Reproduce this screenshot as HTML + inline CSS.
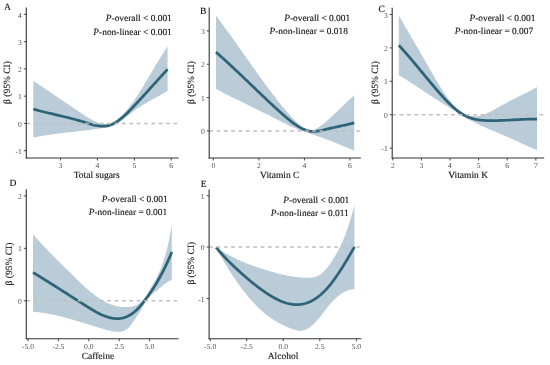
<!DOCTYPE html>
<html><head><meta charset="utf-8"><style>
html,body{margin:0;padding:0;background:#fff;}
svg{display:block;will-change:transform;}
text{font-family:'Liberation Serif', serif;text-rendering:geometricPrecision;}
</style></head><body>
<svg width="550" height="365" viewBox="0 0 550 365">
<rect width="550" height="365" fill="#fff"/>
<path d="M33.30,80.85 L34.30,81.50 L35.30,82.16 L36.30,82.82 L37.30,83.48 L38.30,84.14 L39.30,84.80 L40.30,85.47 L41.30,86.13 L42.30,86.80 L43.30,87.47 L44.30,88.14 L45.30,88.81 L46.30,89.49 L47.30,90.16 L48.30,90.83 L49.30,91.51 L50.30,92.18 L51.30,92.86 L52.30,93.54 L53.30,94.22 L54.30,94.90 L55.30,95.57 L56.30,96.25 L57.30,96.93 L58.30,97.61 L59.30,98.30 L60.30,98.98 L61.30,99.66 L62.30,100.34 L63.30,101.02 L64.30,101.70 L65.30,102.38 L66.30,103.06 L67.30,103.74 L68.30,104.42 L69.30,105.10 L70.30,105.78 L71.30,106.46 L72.30,107.14 L73.30,107.82 L74.30,108.49 L75.30,109.17 L76.30,109.85 L77.30,110.52 L78.30,111.19 L79.30,111.87 L80.30,112.54 L81.30,113.21 L82.30,113.88 L83.30,114.55 L84.30,115.21 L85.30,115.86 L86.30,116.51 L87.30,117.15 L88.30,117.77 L89.30,118.37 L90.30,118.96 L91.30,119.52 L92.30,120.07 L93.30,120.58 L94.30,121.07 L95.30,121.53 L96.30,121.96 L97.30,122.35 L98.30,122.70 L99.30,123.01 L100.30,123.28 L101.30,123.51 L102.30,123.69 L103.30,123.82 L104.30,123.90 L105.30,123.92 L106.30,123.89 L107.30,123.80 L108.30,123.65 L109.30,123.44 L110.30,123.16 L111.30,122.81 L112.30,122.40 L113.30,121.93 L114.30,121.39 L115.30,120.79 L116.30,120.14 L117.30,119.42 L118.30,118.66 L119.30,117.83 L120.30,116.96 L121.30,116.03 L122.30,115.06 L123.30,114.04 L124.30,112.97 L125.30,111.86 L126.30,110.71 L127.30,109.51 L128.30,108.28 L129.30,107.01 L130.30,105.70 L131.30,104.36 L132.30,102.98 L133.30,101.57 L134.30,100.14 L135.30,98.67 L136.30,97.18 L137.30,95.67 L138.30,94.13 L139.30,92.57 L140.30,90.99 L141.30,89.39 L142.30,87.78 L143.30,86.15 L144.30,84.50 L145.30,82.85 L146.30,81.18 L147.30,79.51 L148.30,77.83 L149.30,76.14 L150.30,74.45 L151.30,72.76 L152.30,71.07 L153.30,69.38 L154.30,67.69 L155.30,66.01 L156.30,64.33 L157.30,62.66 L158.30,61.00 L159.30,59.35 L160.30,57.71 L161.30,56.08 L162.30,54.48 L163.30,52.89 L164.30,51.31 L165.30,49.76 L166.30,48.23 L167.30,46.73 L167.60,46.28 L167.60,90.83 L167.30,91.02 L166.30,91.63 L165.30,92.24 L164.30,92.83 L163.30,93.42 L162.30,94.00 L161.30,94.57 L160.30,95.14 L159.30,95.70 L158.30,96.26 L157.30,96.81 L156.30,97.37 L155.30,97.92 L154.30,98.47 L153.30,99.02 L152.30,99.57 L151.30,100.12 L150.30,100.68 L149.30,101.24 L148.30,101.80 L147.30,102.37 L146.30,102.95 L145.30,103.53 L144.30,104.12 L143.30,104.72 L142.30,105.33 L141.30,105.95 L140.30,106.58 L139.30,107.22 L138.30,107.88 L137.30,108.55 L136.30,109.23 L135.30,109.94 L134.30,110.65 L133.30,111.39 L132.30,112.14 L131.30,112.91 L130.30,113.70 L129.30,114.49 L128.30,115.29 L127.30,116.09 L126.30,116.89 L125.30,117.69 L124.30,118.48 L123.30,119.25 L122.30,120.01 L121.30,120.75 L120.30,121.46 L119.30,122.14 L118.30,122.78 L117.30,123.39 L116.30,123.95 L115.30,124.46 L114.30,124.94 L113.30,125.37 L112.30,125.76 L111.30,126.12 L110.30,126.44 L109.30,126.73 L108.30,127.00 L107.30,127.24 L106.30,127.46 L105.30,127.65 L104.30,127.84 L103.30,128.00 L102.30,128.16 L101.30,128.31 L100.30,128.45 L99.30,128.59 L98.30,128.73 L97.30,128.87 L96.30,129.00 L95.30,129.14 L94.30,129.27 L93.30,129.40 L92.30,129.52 L91.30,129.65 L90.30,129.78 L89.30,129.90 L88.30,130.02 L87.30,130.14 L86.30,130.26 L85.30,130.38 L84.30,130.50 L83.30,130.62 L82.30,130.74 L81.30,130.86 L80.30,130.97 L79.30,131.09 L78.30,131.21 L77.30,131.32 L76.30,131.44 L75.30,131.55 L74.30,131.67 L73.30,131.78 L72.30,131.90 L71.30,132.01 L70.30,132.13 L69.30,132.25 L68.30,132.37 L67.30,132.48 L66.30,132.60 L65.30,132.72 L64.30,132.84 L63.30,132.96 L62.30,133.08 L61.30,133.21 L60.30,133.33 L59.30,133.46 L58.30,133.58 L57.30,133.71 L56.30,133.84 L55.30,133.97 L54.30,134.11 L53.30,134.24 L52.30,134.38 L51.30,134.52 L50.30,134.66 L49.30,134.80 L48.30,134.95 L47.30,135.10 L46.30,135.25 L45.30,135.40 L44.30,135.55 L43.30,135.71 L42.30,135.87 L41.30,136.03 L40.30,136.20 L39.30,136.37 L38.30,136.54 L37.30,136.71 L36.30,136.89 L35.30,137.07 L34.30,137.26 L33.30,137.44 Z" fill="#b9ccd8"/>
<path d="M33.30,109.04 L34.30,109.33 L35.30,109.61 L36.30,109.90 L37.30,110.17 L38.30,110.45 L39.30,110.72 L40.30,110.98 L41.30,111.24 L42.30,111.50 L43.30,111.75 L44.30,112.00 L45.30,112.25 L46.30,112.50 L47.30,112.74 L48.30,112.98 L49.30,113.22 L50.30,113.46 L51.30,113.69 L52.30,113.93 L53.30,114.16 L54.30,114.39 L55.30,114.63 L56.30,114.86 L57.30,115.09 L58.30,115.32 L59.30,115.56 L60.30,115.79 L61.30,116.02 L62.30,116.26 L63.30,116.49 L64.30,116.73 L65.30,116.97 L66.30,117.21 L67.30,117.46 L68.30,117.70 L69.30,117.95 L70.30,118.21 L71.30,118.46 L72.30,118.72 L73.30,118.98 L74.30,119.25 L75.30,119.52 L76.30,119.80 L77.30,120.08 L78.30,120.36 L79.30,120.65 L80.30,120.94 L81.30,121.25 L82.30,121.55 L83.30,121.86 L84.30,122.18 L85.30,122.49 L86.30,122.81 L87.30,123.12 L88.30,123.43 L89.30,123.73 L90.30,124.02 L91.30,124.31 L92.30,124.58 L93.30,124.83 L94.30,125.07 L95.30,125.29 L96.30,125.49 L97.30,125.67 L98.30,125.82 L99.30,125.95 L100.30,126.05 L101.30,126.12 L102.30,126.16 L103.30,126.16 L104.30,126.13 L105.30,126.05 L106.30,125.94 L107.30,125.78 L108.30,125.57 L109.30,125.32 L110.30,125.01 L111.30,124.65 L112.30,124.23 L113.30,123.77 L114.30,123.25 L115.30,122.68 L116.30,122.06 L117.30,121.41 L118.30,120.71 L119.30,119.97 L120.30,119.19 L121.30,118.38 L122.30,117.54 L123.30,116.66 L124.30,115.76 L125.30,114.84 L126.30,113.89 L127.30,112.91 L128.30,111.92 L129.30,110.92 L130.30,109.90 L131.30,108.86 L132.30,107.82 L133.30,106.77 L134.30,105.72 L135.30,104.66 L136.30,103.59 L137.30,102.52 L138.30,101.44 L139.30,100.36 L140.30,99.28 L141.30,98.19 L142.30,97.10 L143.30,96.01 L144.30,94.91 L145.30,93.81 L146.30,92.71 L147.30,91.60 L148.30,90.49 L149.30,89.39 L150.30,88.28 L151.30,87.17 L152.30,86.06 L153.30,84.95 L154.30,83.84 L155.30,82.73 L156.30,81.62 L157.30,80.52 L158.30,79.41 L159.30,78.31 L160.30,77.20 L161.30,76.10 L162.30,75.01 L163.30,73.91 L164.30,72.82 L165.30,71.73 L166.30,70.65 L167.30,69.57 L167.60,69.24" fill="none" stroke="#2f6378" stroke-width="2.75" stroke-linecap="butt" stroke-linejoin="round"/>
<line x1="26.30" y1="123.40" x2="177.50" y2="123.40" stroke="#bfbfbf" stroke-width="1.45" stroke-dasharray="3.8 3.56"/>
<line x1="26.30" y1="7.60" x2="26.30" y2="158.50" stroke="#333333" stroke-width="1.1"/>
<line x1="25.80" y1="158.00" x2="178.60" y2="158.00" stroke="#333333" stroke-width="1.1"/>
<line x1="23.80" y1="14.40" x2="26.30" y2="14.40" stroke="#333333" stroke-width="0.9"/>
<text x="21.80" y="17.50" text-anchor="end" font-size="7.6" fill="#4d4d4d">4</text>
<line x1="23.80" y1="41.65" x2="26.30" y2="41.65" stroke="#333333" stroke-width="0.9"/>
<text x="21.80" y="44.75" text-anchor="end" font-size="7.6" fill="#4d4d4d">3</text>
<line x1="23.80" y1="68.90" x2="26.30" y2="68.90" stroke="#333333" stroke-width="0.9"/>
<text x="21.80" y="72.00" text-anchor="end" font-size="7.6" fill="#4d4d4d">2</text>
<line x1="23.80" y1="96.15" x2="26.30" y2="96.15" stroke="#333333" stroke-width="0.9"/>
<text x="21.80" y="99.25" text-anchor="end" font-size="7.6" fill="#4d4d4d">1</text>
<line x1="23.80" y1="123.40" x2="26.30" y2="123.40" stroke="#333333" stroke-width="0.9"/>
<text x="21.80" y="126.50" text-anchor="end" font-size="7.6" fill="#4d4d4d">0</text>
<line x1="23.80" y1="150.65" x2="26.30" y2="150.65" stroke="#333333" stroke-width="0.9"/>
<text x="21.80" y="153.75" text-anchor="end" font-size="7.6" fill="#4d4d4d">-1</text>
<line x1="60.40" y1="158.00" x2="60.40" y2="160.50" stroke="#333333" stroke-width="0.9"/>
<text x="60.40" y="168.20" text-anchor="middle" font-size="7.6" fill="#4d4d4d">3</text>
<line x1="97.40" y1="158.00" x2="97.40" y2="160.50" stroke="#333333" stroke-width="0.9"/>
<text x="97.40" y="168.20" text-anchor="middle" font-size="7.6" fill="#4d4d4d">4</text>
<line x1="134.40" y1="158.00" x2="134.40" y2="160.50" stroke="#333333" stroke-width="0.9"/>
<text x="134.40" y="168.20" text-anchor="middle" font-size="7.6" fill="#4d4d4d">5</text>
<line x1="171.20" y1="158.00" x2="171.20" y2="160.50" stroke="#333333" stroke-width="0.9"/>
<text x="171.20" y="168.20" text-anchor="middle" font-size="7.6" fill="#4d4d4d">6</text>
<text x="96.70" y="178.20" text-anchor="middle" font-size="9.5" font-weight="normal" fill="#111" stroke="#111" stroke-width="0.12">Total sugars</text>
<text transform="translate(10.20,82.50) rotate(-90)" text-anchor="middle" font-size="9.5" font-weight="normal" fill="#111" stroke="#111" stroke-width="0.12">β (95% CI)</text>
<text x="4.00" y="9.90" font-size="9.6" font-weight="normal" fill="#111" stroke="#111" stroke-width="0.12">A</text>
<text x="171.80" y="20.60" text-anchor="end" font-size="9.4" fill="#111" stroke="#111" stroke-width="0.12"><tspan font-style="italic">P</tspan>-overall &lt; 0.001</text>
<text x="171.80" y="34.50" text-anchor="end" font-size="9.4" fill="#111" stroke="#111" stroke-width="0.12"><tspan font-style="italic">P</tspan>-non-linear &lt; 0.001</text>
<path d="M216.00,15.70 L217.00,17.01 L218.00,18.33 L219.00,19.66 L220.00,21.00 L221.00,22.34 L222.00,23.69 L223.00,25.04 L224.00,26.40 L225.00,27.77 L226.00,29.14 L227.00,30.52 L228.00,31.90 L229.00,33.29 L230.00,34.68 L231.00,36.07 L232.00,37.47 L233.00,38.87 L234.00,40.27 L235.00,41.68 L236.00,43.09 L237.00,44.50 L238.00,45.91 L239.00,47.33 L240.00,48.75 L241.00,50.16 L242.00,51.58 L243.00,53.00 L244.00,54.42 L245.00,55.84 L246.00,57.26 L247.00,58.68 L248.00,60.10 L249.00,61.52 L250.00,62.94 L251.00,64.35 L252.00,65.76 L253.00,67.17 L254.00,68.58 L255.00,69.99 L256.00,71.39 L257.00,72.79 L258.00,74.19 L259.00,75.58 L260.00,76.97 L261.00,78.35 L262.00,79.73 L263.00,81.11 L264.00,82.48 L265.00,83.84 L266.00,85.20 L267.00,86.55 L268.00,87.90 L269.00,89.24 L270.00,90.57 L271.00,91.90 L272.00,93.21 L273.00,94.52 L274.00,95.83 L275.00,97.12 L276.00,98.41 L277.00,99.69 L278.00,100.96 L279.00,102.21 L280.00,103.46 L281.00,104.70 L282.00,105.93 L283.00,107.15 L284.00,108.35 L285.00,109.55 L286.00,110.72 L287.00,111.88 L288.00,113.03 L289.00,114.15 L290.00,115.26 L291.00,116.35 L292.00,117.41 L293.00,118.46 L294.00,119.48 L295.00,120.48 L296.00,121.46 L297.00,122.41 L298.00,123.33 L299.00,124.23 L300.00,125.09 L301.00,125.93 L302.00,126.72 L303.00,127.47 L304.00,128.15 L305.00,128.75 L306.00,129.26 L307.00,129.68 L308.00,129.99 L309.00,130.18 L310.00,130.27 L311.00,130.25 L312.00,130.14 L313.00,129.94 L314.00,129.65 L315.00,129.29 L316.00,128.85 L317.00,128.35 L318.00,127.78 L319.00,127.16 L320.00,126.49 L321.00,125.78 L322.00,125.02 L323.00,124.23 L324.00,123.41 L325.00,122.57 L326.00,121.70 L327.00,120.80 L328.00,119.90 L329.00,118.98 L330.00,118.06 L331.00,117.13 L332.00,116.19 L333.00,115.25 L334.00,114.31 L335.00,113.36 L336.00,112.41 L337.00,111.46 L338.00,110.51 L339.00,109.56 L340.00,108.60 L341.00,107.65 L342.00,106.70 L343.00,105.75 L344.00,104.80 L345.00,103.85 L346.00,102.91 L347.00,101.98 L348.00,101.04 L349.00,100.12 L350.00,99.19 L351.00,98.28 L352.00,97.37 L353.00,96.47 L354.00,95.58 L354.20,95.40 L354.20,150.70 L354.00,150.62 L353.00,150.20 L352.00,149.79 L351.00,149.37 L350.00,148.95 L349.00,148.53 L348.00,148.11 L347.00,147.68 L346.00,147.26 L345.00,146.83 L344.00,146.41 L343.00,145.98 L342.00,145.56 L341.00,145.13 L340.00,144.71 L339.00,144.29 L338.00,143.87 L337.00,143.46 L336.00,143.04 L335.00,142.63 L334.00,142.23 L333.00,141.82 L332.00,141.43 L331.00,141.03 L330.00,140.65 L329.00,140.26 L328.00,139.89 L327.00,139.51 L326.00,139.15 L325.00,138.79 L324.00,138.43 L323.00,138.07 L322.00,137.72 L321.00,137.37 L320.00,137.03 L319.00,136.69 L318.00,136.35 L317.00,136.01 L316.00,135.67 L315.00,135.33 L314.00,134.99 L313.00,134.66 L312.00,134.32 L311.00,133.98 L310.00,133.65 L309.00,133.31 L308.00,132.97 L307.00,132.62 L306.00,132.28 L305.00,131.93 L304.00,131.58 L303.00,131.22 L302.00,130.87 L301.00,130.50 L300.00,130.14 L299.00,129.76 L298.00,129.38 L297.00,128.99 L296.00,128.60 L295.00,128.19 L294.00,127.78 L293.00,127.35 L292.00,126.92 L291.00,126.47 L290.00,126.01 L289.00,125.53 L288.00,125.05 L287.00,124.56 L286.00,124.06 L285.00,123.55 L284.00,123.04 L283.00,122.52 L282.00,122.00 L281.00,121.49 L280.00,120.97 L279.00,120.45 L278.00,119.94 L277.00,119.42 L276.00,118.91 L275.00,118.40 L274.00,117.89 L273.00,117.39 L272.00,116.88 L271.00,116.38 L270.00,115.87 L269.00,115.37 L268.00,114.87 L267.00,114.37 L266.00,113.88 L265.00,113.38 L264.00,112.88 L263.00,112.39 L262.00,111.89 L261.00,111.40 L260.00,110.91 L259.00,110.42 L258.00,109.92 L257.00,109.43 L256.00,108.94 L255.00,108.45 L254.00,107.96 L253.00,107.47 L252.00,106.98 L251.00,106.49 L250.00,106.00 L249.00,105.52 L248.00,105.03 L247.00,104.54 L246.00,104.05 L245.00,103.56 L244.00,103.07 L243.00,102.58 L242.00,102.09 L241.00,101.60 L240.00,101.11 L239.00,100.62 L238.00,100.12 L237.00,99.63 L236.00,99.14 L235.00,98.64 L234.00,98.15 L233.00,97.65 L232.00,97.15 L231.00,96.66 L230.00,96.16 L229.00,95.66 L228.00,95.15 L227.00,94.65 L226.00,94.15 L225.00,93.64 L224.00,93.13 L223.00,92.63 L222.00,92.12 L221.00,91.60 L220.00,91.09 L219.00,90.58 L218.00,90.06 L217.00,89.54 L216.00,89.02 Z" fill="#b9ccd8"/>
<path d="M216.00,52.13 L217.00,53.00 L218.00,53.88 L219.00,54.77 L220.00,55.66 L221.00,56.55 L222.00,57.45 L223.00,58.35 L224.00,59.25 L225.00,60.16 L226.00,61.08 L227.00,61.99 L228.00,62.91 L229.00,63.84 L230.00,64.76 L231.00,65.69 L232.00,66.62 L233.00,67.56 L234.00,68.49 L235.00,69.43 L236.00,70.38 L237.00,71.32 L238.00,72.27 L239.00,73.21 L240.00,74.16 L241.00,75.11 L242.00,76.07 L243.00,77.02 L244.00,77.97 L245.00,78.93 L246.00,79.89 L247.00,80.84 L248.00,81.80 L249.00,82.76 L250.00,83.72 L251.00,84.68 L252.00,85.64 L253.00,86.60 L254.00,87.56 L255.00,88.51 L256.00,89.47 L257.00,90.43 L258.00,91.39 L259.00,92.34 L260.00,93.30 L261.00,94.25 L262.00,95.20 L263.00,96.15 L264.00,97.10 L265.00,98.05 L266.00,98.99 L267.00,99.93 L268.00,100.88 L269.00,101.81 L270.00,102.75 L271.00,103.68 L272.00,104.61 L273.00,105.54 L274.00,106.47 L275.00,107.39 L276.00,108.31 L277.00,109.22 L278.00,110.13 L279.00,111.04 L280.00,111.95 L281.00,112.85 L282.00,113.74 L283.00,114.63 L284.00,115.51 L285.00,116.38 L286.00,117.24 L287.00,118.09 L288.00,118.92 L289.00,119.74 L290.00,120.54 L291.00,121.33 L292.00,122.10 L293.00,122.85 L294.00,123.57 L295.00,124.28 L296.00,124.96 L297.00,125.61 L298.00,126.24 L299.00,126.84 L300.00,127.41 L301.00,127.95 L302.00,128.46 L303.00,128.94 L304.00,129.37 L305.00,129.78 L306.00,130.14 L307.00,130.46 L308.00,130.74 L309.00,130.98 L310.00,131.17 L311.00,131.31 L312.00,131.40 L313.00,131.45 L314.00,131.45 L315.00,131.42 L316.00,131.35 L317.00,131.24 L318.00,131.11 L319.00,130.96 L320.00,130.78 L321.00,130.59 L322.00,130.38 L323.00,130.15 L324.00,129.92 L325.00,129.67 L326.00,129.42 L327.00,129.17 L328.00,128.92 L329.00,128.67 L330.00,128.42 L331.00,128.18 L332.00,127.95 L333.00,127.72 L334.00,127.49 L335.00,127.27 L336.00,127.04 L337.00,126.82 L338.00,126.60 L339.00,126.39 L340.00,126.17 L341.00,125.95 L342.00,125.73 L343.00,125.51 L344.00,125.29 L345.00,125.07 L346.00,124.84 L347.00,124.61 L348.00,124.38 L349.00,124.14 L350.00,123.90 L351.00,123.65 L352.00,123.39 L353.00,123.13 L354.00,122.86 L354.20,122.81" fill="none" stroke="#2f6378" stroke-width="2.75" stroke-linecap="butt" stroke-linejoin="round"/>
<line x1="209.20" y1="130.90" x2="360.00" y2="130.90" stroke="#bfbfbf" stroke-width="1.45" stroke-dasharray="3.8 3.56"/>
<line x1="209.20" y1="7.60" x2="209.20" y2="158.50" stroke="#333333" stroke-width="1.1"/>
<line x1="208.70" y1="158.00" x2="360.90" y2="158.00" stroke="#333333" stroke-width="1.1"/>
<line x1="206.70" y1="30.90" x2="209.20" y2="30.90" stroke="#333333" stroke-width="0.9"/>
<text x="204.70" y="34.00" text-anchor="end" font-size="7.6" fill="#4d4d4d">3</text>
<line x1="206.70" y1="64.24" x2="209.20" y2="64.24" stroke="#333333" stroke-width="0.9"/>
<text x="204.70" y="67.34" text-anchor="end" font-size="7.6" fill="#4d4d4d">2</text>
<line x1="206.70" y1="97.57" x2="209.20" y2="97.57" stroke="#333333" stroke-width="0.9"/>
<text x="204.70" y="100.67" text-anchor="end" font-size="7.6" fill="#4d4d4d">1</text>
<line x1="206.70" y1="130.90" x2="209.20" y2="130.90" stroke="#333333" stroke-width="0.9"/>
<text x="204.70" y="134.00" text-anchor="end" font-size="7.6" fill="#4d4d4d">0</text>
<line x1="213.30" y1="158.00" x2="213.30" y2="160.50" stroke="#333333" stroke-width="0.9"/>
<text x="213.30" y="168.20" text-anchor="middle" font-size="7.6" fill="#4d4d4d">0</text>
<line x1="258.86" y1="158.00" x2="258.86" y2="160.50" stroke="#333333" stroke-width="0.9"/>
<text x="258.86" y="168.20" text-anchor="middle" font-size="7.6" fill="#4d4d4d">2</text>
<line x1="304.42" y1="158.00" x2="304.42" y2="160.50" stroke="#333333" stroke-width="0.9"/>
<text x="304.42" y="168.20" text-anchor="middle" font-size="7.6" fill="#4d4d4d">4</text>
<line x1="349.98" y1="158.00" x2="349.98" y2="160.50" stroke="#333333" stroke-width="0.9"/>
<text x="349.98" y="168.20" text-anchor="middle" font-size="7.6" fill="#4d4d4d">6</text>
<text x="279.75" y="178.20" text-anchor="middle" font-size="9.5" font-weight="normal" fill="#111" stroke="#111" stroke-width="0.12">Vitamin C</text>
<text transform="translate(194.00,82.50) rotate(-90)" text-anchor="middle" font-size="9.5" font-weight="normal" fill="#111" stroke="#111" stroke-width="0.12">β (95% CI)</text>
<text x="200.00" y="13.60" font-size="9.6" font-weight="normal" fill="#111" stroke="#111" stroke-width="0.12">B</text>
<text x="350.20" y="20.50" text-anchor="end" font-size="9.4" fill="#111" stroke="#111" stroke-width="0.12"><tspan font-style="italic">P</tspan>-overall &lt; 0.001</text>
<text x="347.90" y="34.00" text-anchor="end" font-size="9.4" fill="#111" stroke="#111" stroke-width="0.12"><tspan font-style="italic">P</tspan>-non-linear = 0.018</text>
<path d="M398.80,15.50 L399.80,17.25 L400.80,19.00 L401.80,20.74 L402.80,22.47 L403.80,24.20 L404.80,25.92 L405.80,27.63 L406.80,29.35 L407.80,31.06 L408.80,32.76 L409.80,34.47 L410.80,36.18 L411.80,37.88 L412.80,39.58 L413.80,41.29 L414.80,43.00 L415.80,44.70 L416.80,46.41 L417.80,48.13 L418.80,49.85 L419.80,51.57 L420.80,53.29 L421.80,55.03 L422.80,56.76 L423.80,58.50 L424.80,60.24 L425.80,61.99 L426.80,63.74 L427.80,65.49 L428.80,67.24 L429.80,69.00 L430.80,70.75 L431.80,72.51 L432.80,74.26 L433.80,76.00 L434.80,77.73 L435.80,79.45 L436.80,81.15 L437.80,82.84 L438.80,84.50 L439.80,86.14 L440.80,87.75 L441.80,89.33 L442.80,90.88 L443.80,92.39 L444.80,93.87 L445.80,95.30 L446.80,96.69 L447.80,98.03 L448.80,99.33 L449.80,100.59 L450.80,101.79 L451.80,102.96 L452.80,104.07 L453.80,105.14 L454.80,106.17 L455.80,107.14 L456.80,108.07 L457.80,108.95 L458.80,109.79 L459.80,110.57 L460.80,111.30 L461.80,111.99 L462.80,112.62 L463.80,113.21 L464.80,113.74 L465.80,114.22 L466.80,114.65 L467.80,115.03 L468.80,115.36 L469.80,115.64 L470.80,115.86 L471.80,116.04 L472.80,116.17 L473.80,116.25 L474.80,116.29 L475.80,116.28 L476.80,116.22 L477.80,116.12 L478.80,115.98 L479.80,115.80 L480.80,115.57 L481.80,115.31 L482.80,115.00 L483.80,114.66 L484.80,114.29 L485.80,113.88 L486.80,113.45 L487.80,112.99 L488.80,112.51 L489.80,112.01 L490.80,111.49 L491.80,110.95 L492.80,110.40 L493.80,109.84 L494.80,109.28 L495.80,108.70 L496.80,108.13 L497.80,107.55 L498.80,106.98 L499.80,106.41 L500.80,105.84 L501.80,105.29 L502.80,104.74 L503.80,104.20 L504.80,103.66 L505.80,103.13 L506.80,102.61 L507.80,102.09 L508.80,101.58 L509.80,101.06 L510.80,100.56 L511.80,100.05 L512.80,99.55 L513.80,99.05 L514.80,98.55 L515.80,98.06 L516.80,97.56 L517.80,97.07 L518.80,96.58 L519.80,96.08 L520.80,95.59 L521.80,95.09 L522.80,94.60 L523.80,94.10 L524.80,93.59 L525.80,93.09 L526.80,92.58 L527.80,92.07 L528.80,91.56 L529.80,91.04 L530.80,90.52 L531.80,89.99 L532.80,89.45 L533.80,88.91 L534.80,88.36 L535.80,87.81 L536.80,87.25 L537.00,87.14 L537.00,150.27 L536.80,150.19 L535.80,149.76 L534.80,149.33 L533.80,148.90 L532.80,148.46 L531.80,148.01 L530.80,147.56 L529.80,147.11 L528.80,146.66 L527.80,146.20 L526.80,145.74 L525.80,145.28 L524.80,144.82 L523.80,144.36 L522.80,143.89 L521.80,143.43 L520.80,142.96 L519.80,142.50 L518.80,142.04 L517.80,141.57 L516.80,141.11 L515.80,140.65 L514.80,140.19 L513.80,139.74 L512.80,139.28 L511.80,138.83 L510.80,138.39 L509.80,137.94 L508.80,137.50 L507.80,137.07 L506.80,136.63 L505.80,136.20 L504.80,135.78 L503.80,135.35 L502.80,134.93 L501.80,134.51 L500.80,134.09 L499.80,133.67 L498.80,133.25 L497.80,132.83 L496.80,132.41 L495.80,132.00 L494.80,131.58 L493.80,131.16 L492.80,130.74 L491.80,130.31 L490.80,129.89 L489.80,129.46 L488.80,129.03 L487.80,128.60 L486.80,128.16 L485.80,127.72 L484.80,127.28 L483.80,126.83 L482.80,126.38 L481.80,125.92 L480.80,125.46 L479.80,124.99 L478.80,124.51 L477.80,124.03 L476.80,123.55 L475.80,123.05 L474.80,122.55 L473.80,122.04 L472.80,121.53 L471.80,121.00 L470.80,120.47 L469.80,119.93 L468.80,119.38 L467.80,118.82 L466.80,118.26 L465.80,117.68 L464.80,117.10 L463.80,116.50 L462.80,115.90 L461.80,115.29 L460.80,114.67 L459.80,114.05 L458.80,113.41 L457.80,112.78 L456.80,112.14 L455.80,111.50 L454.80,110.85 L453.80,110.21 L452.80,109.57 L451.80,108.94 L450.80,108.31 L449.80,107.69 L448.80,107.07 L447.80,106.46 L446.80,105.85 L445.80,105.25 L444.80,104.64 L443.80,104.03 L442.80,103.43 L441.80,102.82 L440.80,102.20 L439.80,101.58 L438.80,100.96 L437.80,100.33 L436.80,99.70 L435.80,99.06 L434.80,98.42 L433.80,97.77 L432.80,97.12 L431.80,96.47 L430.80,95.82 L429.80,95.16 L428.80,94.50 L427.80,93.84 L426.80,93.17 L425.80,92.51 L424.80,91.84 L423.80,91.17 L422.80,90.51 L421.80,89.84 L420.80,89.17 L419.80,88.51 L418.80,87.84 L417.80,87.18 L416.80,86.51 L415.80,85.85 L414.80,85.19 L413.80,84.54 L412.80,83.88 L411.80,83.23 L410.80,82.58 L409.80,81.94 L408.80,81.30 L407.80,80.67 L406.80,80.03 L405.80,79.41 L404.80,78.79 L403.80,78.17 L402.80,77.56 L401.80,76.96 L400.80,76.37 L399.80,75.78 L398.80,75.19 Z" fill="#b9ccd8"/>
<path d="M398.80,45.25 L399.80,46.32 L400.80,47.41 L401.80,48.51 L402.80,49.62 L403.80,50.74 L404.80,51.86 L405.80,53.00 L406.80,54.14 L407.80,55.30 L408.80,56.46 L409.80,57.63 L410.80,58.80 L411.80,59.98 L412.80,61.17 L413.80,62.36 L414.80,63.55 L415.80,64.75 L416.80,65.95 L417.80,67.16 L418.80,68.37 L419.80,69.57 L420.80,70.79 L421.80,72.00 L422.80,73.21 L423.80,74.42 L424.80,75.63 L425.80,76.84 L426.80,78.05 L427.80,79.25 L428.80,80.46 L429.80,81.66 L430.80,82.85 L431.80,84.04 L432.80,85.23 L433.80,86.41 L434.80,87.59 L435.80,88.76 L436.80,89.92 L437.80,91.08 L438.80,92.22 L439.80,93.36 L440.80,94.49 L441.80,95.61 L442.80,96.72 L443.80,97.82 L444.80,98.90 L445.80,99.97 L446.80,101.02 L447.80,102.05 L448.80,103.06 L449.80,104.06 L450.80,105.03 L451.80,105.97 L452.80,106.90 L453.80,107.79 L454.80,108.66 L455.80,109.50 L456.80,110.31 L457.80,111.09 L458.80,111.84 L459.80,112.55 L460.80,113.23 L461.80,113.87 L462.80,114.48 L463.80,115.04 L464.80,115.57 L465.80,116.07 L466.80,116.53 L467.80,116.96 L468.80,117.36 L469.80,117.73 L470.80,118.07 L471.80,118.39 L472.80,118.67 L473.80,118.94 L474.80,119.17 L475.80,119.39 L476.80,119.58 L477.80,119.75 L478.80,119.90 L479.80,120.04 L480.80,120.15 L481.80,120.25 L482.80,120.34 L483.80,120.41 L484.80,120.47 L485.80,120.52 L486.80,120.56 L487.80,120.58 L488.80,120.60 L489.80,120.62 L490.80,120.63 L491.80,120.63 L492.80,120.63 L493.80,120.62 L494.80,120.61 L495.80,120.59 L496.80,120.57 L497.80,120.55 L498.80,120.52 L499.80,120.49 L500.80,120.46 L501.80,120.42 L502.80,120.38 L503.80,120.34 L504.80,120.30 L505.80,120.25 L506.80,120.20 L507.80,120.15 L508.80,120.10 L509.80,120.05 L510.80,120.00 L511.80,119.94 L512.80,119.89 L513.80,119.84 L514.80,119.78 L515.80,119.73 L516.80,119.67 L517.80,119.62 L518.80,119.57 L519.80,119.52 L520.80,119.47 L521.80,119.42 L522.80,119.38 L523.80,119.33 L524.80,119.29 L525.80,119.25 L526.80,119.22 L527.80,119.18 L528.80,119.15 L529.80,119.13 L530.80,119.10 L531.80,119.09 L532.80,119.07 L533.80,119.06 L534.80,119.05 L535.80,119.05 L536.80,119.06 L537.00,119.06" fill="none" stroke="#2f6378" stroke-width="2.75" stroke-linecap="butt" stroke-linejoin="round"/>
<line x1="392.20" y1="114.70" x2="543.50" y2="114.70" stroke="#bfbfbf" stroke-width="1.45" stroke-dasharray="3.8 3.56"/>
<line x1="392.20" y1="7.70" x2="392.20" y2="158.50" stroke="#333333" stroke-width="1.1"/>
<line x1="391.70" y1="158.00" x2="544.20" y2="158.00" stroke="#333333" stroke-width="1.1"/>
<line x1="389.70" y1="14.50" x2="392.20" y2="14.50" stroke="#333333" stroke-width="0.9"/>
<text x="387.70" y="17.60" text-anchor="end" font-size="7.6" fill="#4d4d4d">3</text>
<line x1="389.70" y1="47.90" x2="392.20" y2="47.90" stroke="#333333" stroke-width="0.9"/>
<text x="387.70" y="51.00" text-anchor="end" font-size="7.6" fill="#4d4d4d">2</text>
<line x1="389.70" y1="81.30" x2="392.20" y2="81.30" stroke="#333333" stroke-width="0.9"/>
<text x="387.70" y="84.40" text-anchor="end" font-size="7.6" fill="#4d4d4d">1</text>
<line x1="389.70" y1="114.70" x2="392.20" y2="114.70" stroke="#333333" stroke-width="0.9"/>
<text x="387.70" y="117.80" text-anchor="end" font-size="7.6" fill="#4d4d4d">0</text>
<line x1="389.70" y1="148.10" x2="392.20" y2="148.10" stroke="#333333" stroke-width="0.9"/>
<text x="387.70" y="151.20" text-anchor="end" font-size="7.6" fill="#4d4d4d">-1</text>
<line x1="392.80" y1="158.00" x2="392.80" y2="160.50" stroke="#333333" stroke-width="0.9"/>
<text x="392.80" y="168.20" text-anchor="middle" font-size="7.6" fill="#4d4d4d">2</text>
<line x1="421.40" y1="158.00" x2="421.40" y2="160.50" stroke="#333333" stroke-width="0.9"/>
<text x="421.40" y="168.20" text-anchor="middle" font-size="7.6" fill="#4d4d4d">3</text>
<line x1="450.00" y1="158.00" x2="450.00" y2="160.50" stroke="#333333" stroke-width="0.9"/>
<text x="450.00" y="168.20" text-anchor="middle" font-size="7.6" fill="#4d4d4d">4</text>
<line x1="478.60" y1="158.00" x2="478.60" y2="160.50" stroke="#333333" stroke-width="0.9"/>
<text x="478.60" y="168.20" text-anchor="middle" font-size="7.6" fill="#4d4d4d">5</text>
<line x1="507.20" y1="158.00" x2="507.20" y2="160.50" stroke="#333333" stroke-width="0.9"/>
<text x="507.20" y="168.20" text-anchor="middle" font-size="7.6" fill="#4d4d4d">6</text>
<line x1="535.80" y1="158.00" x2="535.80" y2="160.50" stroke="#333333" stroke-width="0.9"/>
<text x="535.80" y="168.20" text-anchor="middle" font-size="7.6" fill="#4d4d4d">7</text>
<text x="468.20" y="178.20" text-anchor="middle" font-size="9.5" font-weight="normal" fill="#111" stroke="#111" stroke-width="0.12">Vitamin K</text>
<text transform="translate(377.50,82.50) rotate(-90)" text-anchor="middle" font-size="9.5" font-weight="normal" fill="#111" stroke="#111" stroke-width="0.12">β (95% CI)</text>
<text x="378.60" y="12.00" font-size="9.6" font-weight="normal" fill="#111" stroke="#111" stroke-width="0.12">C</text>
<text x="535.40" y="20.80" text-anchor="end" font-size="9.4" fill="#111" stroke="#111" stroke-width="0.12"><tspan font-style="italic">P</tspan>-overall &lt; 0.001</text>
<text x="533.20" y="34.10" text-anchor="end" font-size="9.4" fill="#111" stroke="#111" stroke-width="0.12"><tspan font-style="italic">P</tspan>-non-linear = 0.007</text>
<path d="M33.00,234.20 L34.00,235.36 L35.00,236.51 L36.00,237.65 L37.00,238.78 L38.00,239.90 L39.00,241.01 L40.00,242.11 L41.00,243.20 L42.00,244.28 L43.00,245.35 L44.00,246.42 L45.00,247.48 L46.00,248.53 L47.00,249.58 L48.00,250.61 L49.00,251.65 L50.00,252.67 L51.00,253.69 L52.00,254.71 L53.00,255.72 L54.00,256.73 L55.00,257.73 L56.00,258.73 L57.00,259.73 L58.00,260.73 L59.00,261.72 L60.00,262.71 L61.00,263.70 L62.00,264.68 L63.00,265.67 L64.00,266.66 L65.00,267.64 L66.00,268.63 L67.00,269.61 L68.00,270.60 L69.00,271.59 L70.00,272.58 L71.00,273.57 L72.00,274.56 L73.00,275.55 L74.00,276.53 L75.00,277.52 L76.00,278.50 L77.00,279.47 L78.00,280.44 L79.00,281.41 L80.00,282.36 L81.00,283.31 L82.00,284.25 L83.00,285.19 L84.00,286.11 L85.00,287.02 L86.00,287.92 L87.00,288.81 L88.00,289.68 L89.00,290.54 L90.00,291.38 L91.00,292.21 L92.00,293.02 L93.00,293.82 L94.00,294.59 L95.00,295.35 L96.00,296.09 L97.00,296.80 L98.00,297.50 L99.00,298.17 L100.00,298.83 L101.00,299.45 L102.00,300.06 L103.00,300.65 L104.00,301.21 L105.00,301.74 L106.00,302.25 L107.00,302.74 L108.00,303.20 L109.00,303.64 L110.00,304.05 L111.00,304.43 L112.00,304.79 L113.00,305.12 L114.00,305.42 L115.00,305.70 L116.00,305.95 L117.00,306.17 L118.00,306.37 L119.00,306.54 L120.00,306.68 L121.00,306.80 L122.00,306.90 L123.00,306.97 L124.00,307.02 L125.00,307.04 L126.00,307.04 L127.00,307.01 L128.00,306.96 L129.00,306.89 L130.00,306.78 L131.00,306.64 L132.00,306.46 L133.00,306.22 L134.00,305.94 L135.00,305.59 L136.00,305.18 L137.00,304.70 L138.00,304.14 L139.00,303.51 L140.00,302.78 L141.00,301.96 L142.00,301.03 L143.00,299.98 L144.00,298.81 L145.00,297.49 L146.00,296.03 L147.00,294.45 L148.00,292.78 L149.00,291.05 L150.00,289.29 L151.00,287.52 L152.00,285.77 L153.00,284.03 L154.00,282.27 L155.00,280.48 L156.00,278.64 L157.00,276.73 L158.00,274.73 L159.00,272.62 L160.00,270.39 L161.00,268.01 L162.00,265.46 L163.00,262.72 L164.00,259.76 L165.00,256.54 L166.00,253.01 L167.00,249.14 L168.00,244.89 L169.00,240.23 L170.00,235.10 L171.00,229.48 L171.80,224.60 L171.80,280.00 L171.00,280.30 L170.00,280.74 L169.00,281.25 L168.00,281.82 L167.00,282.44 L166.00,283.11 L165.00,283.83 L164.00,284.58 L163.00,285.36 L162.00,286.15 L161.00,286.97 L160.00,287.79 L159.00,288.62 L158.00,289.44 L157.00,290.25 L156.00,291.04 L155.00,291.82 L154.00,292.61 L153.00,293.41 L152.00,294.25 L151.00,295.14 L150.00,296.11 L149.00,297.16 L148.00,298.32 L147.00,299.61 L146.00,301.03 L145.00,302.61 L144.00,304.33 L143.00,306.14 L142.00,307.99 L141.00,309.83 L140.00,311.61 L139.00,313.27 L138.00,314.83 L137.00,316.30 L136.00,317.74 L135.00,319.16 L134.00,320.61 L133.00,322.04 L132.00,323.45 L131.00,324.80 L130.00,326.07 L129.00,327.24 L128.00,328.27 L127.00,329.15 L126.00,329.86 L125.00,330.43 L124.00,330.87 L123.00,331.21 L122.00,331.44 L121.00,331.61 L120.00,331.71 L119.00,331.76 L118.00,331.78 L117.00,331.75 L116.00,331.69 L115.00,331.59 L114.00,331.47 L113.00,331.31 L112.00,331.13 L111.00,330.93 L110.00,330.71 L109.00,330.47 L108.00,330.21 L107.00,329.95 L106.00,329.68 L105.00,329.40 L104.00,329.12 L103.00,328.83 L102.00,328.55 L101.00,328.26 L100.00,327.97 L99.00,327.67 L98.00,327.38 L97.00,327.08 L96.00,326.78 L95.00,326.48 L94.00,326.18 L93.00,325.88 L92.00,325.57 L91.00,325.27 L90.00,324.96 L89.00,324.65 L88.00,324.35 L87.00,324.04 L86.00,323.74 L85.00,323.43 L84.00,323.12 L83.00,322.82 L82.00,322.51 L81.00,322.21 L80.00,321.90 L79.00,321.60 L78.00,321.30 L77.00,321.00 L76.00,320.70 L75.00,320.41 L74.00,320.12 L73.00,319.82 L72.00,319.53 L71.00,319.25 L70.00,318.96 L69.00,318.68 L68.00,318.40 L67.00,318.13 L66.00,317.85 L65.00,317.59 L64.00,317.32 L63.00,317.06 L62.00,316.80 L61.00,316.55 L60.00,316.30 L59.00,316.05 L58.00,315.81 L57.00,315.58 L56.00,315.35 L55.00,315.12 L54.00,314.90 L53.00,314.69 L52.00,314.48 L51.00,314.27 L50.00,314.07 L49.00,313.88 L48.00,313.70 L47.00,313.52 L46.00,313.35 L45.00,313.18 L44.00,313.02 L43.00,312.87 L42.00,312.72 L41.00,312.59 L40.00,312.46 L39.00,312.33 L38.00,312.22 L37.00,312.11 L36.00,312.02 L35.00,311.93 L34.00,311.85 L33.00,311.77 Z" fill="#b9ccd8"/>
<path d="M33.00,272.44 L34.00,273.05 L35.00,273.66 L36.00,274.28 L37.00,274.89 L38.00,275.51 L39.00,276.13 L40.00,276.75 L41.00,277.37 L42.00,277.99 L43.00,278.61 L44.00,279.23 L45.00,279.86 L46.00,280.48 L47.00,281.11 L48.00,281.74 L49.00,282.36 L50.00,282.99 L51.00,283.62 L52.00,284.25 L53.00,284.89 L54.00,285.52 L55.00,286.15 L56.00,286.78 L57.00,287.42 L58.00,288.05 L59.00,288.69 L60.00,289.32 L61.00,289.96 L62.00,290.59 L63.00,291.23 L64.00,291.87 L65.00,292.50 L66.00,293.14 L67.00,293.78 L68.00,294.42 L69.00,295.05 L70.00,295.69 L71.00,296.33 L72.00,296.97 L73.00,297.61 L74.00,298.24 L75.00,298.88 L76.00,299.52 L77.00,300.16 L78.00,300.79 L79.00,301.43 L80.00,302.07 L81.00,302.71 L82.00,303.34 L83.00,303.98 L84.00,304.61 L85.00,305.25 L86.00,305.88 L87.00,306.51 L88.00,307.14 L89.00,307.76 L90.00,308.38 L91.00,308.99 L92.00,309.59 L93.00,310.18 L94.00,310.76 L95.00,311.33 L96.00,311.88 L97.00,312.42 L98.00,312.95 L99.00,313.46 L100.00,313.95 L101.00,314.43 L102.00,314.88 L103.00,315.32 L104.00,315.73 L105.00,316.12 L106.00,316.48 L107.00,316.82 L108.00,317.14 L109.00,317.42 L110.00,317.68 L111.00,317.91 L112.00,318.11 L113.00,318.27 L114.00,318.40 L115.00,318.50 L116.00,318.56 L117.00,318.59 L118.00,318.58 L119.00,318.53 L120.00,318.43 L121.00,318.30 L122.00,318.12 L123.00,317.90 L124.00,317.64 L125.00,317.33 L126.00,316.97 L127.00,316.56 L128.00,316.10 L129.00,315.59 L130.00,315.03 L131.00,314.41 L132.00,313.74 L133.00,313.02 L134.00,312.23 L135.00,311.39 L136.00,310.49 L137.00,309.53 L138.00,308.52 L139.00,307.46 L140.00,306.35 L141.00,305.19 L142.00,304.00 L143.00,302.77 L144.00,301.50 L145.00,300.21 L146.00,298.88 L147.00,297.53 L148.00,296.15 L149.00,294.74 L150.00,293.30 L151.00,291.83 L152.00,290.33 L153.00,288.79 L154.00,287.22 L155.00,285.61 L156.00,283.97 L157.00,282.28 L158.00,280.56 L159.00,278.80 L160.00,276.99 L161.00,275.14 L162.00,273.25 L163.00,271.31 L164.00,269.32 L165.00,267.29 L166.00,265.20 L167.00,263.07 L168.00,260.89 L169.00,258.65 L170.00,256.36 L171.00,254.01 L171.80,252.09" fill="none" stroke="#2f6378" stroke-width="2.75" stroke-linecap="butt" stroke-linejoin="round"/>
<line x1="26.30" y1="300.80" x2="178.30" y2="300.80" stroke="#bfbfbf" stroke-width="1.45" stroke-dasharray="3.8 3.56"/>
<line x1="26.30" y1="189.30" x2="26.30" y2="339.30" stroke="#333333" stroke-width="1.1"/>
<line x1="25.80" y1="338.80" x2="178.60" y2="338.80" stroke="#333333" stroke-width="1.1"/>
<line x1="23.80" y1="195.90" x2="26.30" y2="195.90" stroke="#333333" stroke-width="0.9"/>
<text x="21.80" y="199.00" text-anchor="end" font-size="7.6" fill="#4d4d4d">2</text>
<line x1="23.80" y1="248.35" x2="26.30" y2="248.35" stroke="#333333" stroke-width="0.9"/>
<text x="21.80" y="251.45" text-anchor="end" font-size="7.6" fill="#4d4d4d">1</text>
<line x1="23.80" y1="300.80" x2="26.30" y2="300.80" stroke="#333333" stroke-width="0.9"/>
<text x="21.80" y="303.90" text-anchor="end" font-size="7.6" fill="#4d4d4d">0</text>
<line x1="28.00" y1="338.80" x2="28.00" y2="341.30" stroke="#333333" stroke-width="0.9"/>
<text x="28.00" y="349.00" text-anchor="middle" font-size="7.6" fill="#4d4d4d">-5.0</text>
<line x1="58.40" y1="338.80" x2="58.40" y2="341.30" stroke="#333333" stroke-width="0.9"/>
<text x="58.40" y="349.00" text-anchor="middle" font-size="7.6" fill="#4d4d4d">-2.5</text>
<line x1="88.80" y1="338.80" x2="88.80" y2="341.30" stroke="#333333" stroke-width="0.9"/>
<text x="88.80" y="349.00" text-anchor="middle" font-size="7.6" fill="#4d4d4d">0.0</text>
<line x1="119.20" y1="338.80" x2="119.20" y2="341.30" stroke="#333333" stroke-width="0.9"/>
<text x="119.20" y="349.00" text-anchor="middle" font-size="7.6" fill="#4d4d4d">2.5</text>
<line x1="149.60" y1="338.80" x2="149.60" y2="341.30" stroke="#333333" stroke-width="0.9"/>
<text x="149.60" y="349.00" text-anchor="middle" font-size="7.6" fill="#4d4d4d">5.0</text>
<text x="97.90" y="359.00" text-anchor="middle" font-size="9.5" font-weight="normal" fill="#111" stroke="#111" stroke-width="0.12">Caffeine</text>
<text transform="translate(11.90,264.00) rotate(-90)" text-anchor="middle" font-size="9.5" font-weight="normal" fill="#111" stroke="#111" stroke-width="0.12">β (95% CI)</text>
<text x="9.50" y="185.70" font-size="9.6" font-weight="normal" fill="#111" stroke="#111" stroke-width="0.12">D</text>
<text x="167.70" y="201.80" text-anchor="end" font-size="9.4" fill="#111" stroke="#111" stroke-width="0.12"><tspan font-style="italic">P</tspan>-overall &lt; 0.001</text>
<text x="167.20" y="215.10" text-anchor="end" font-size="9.4" fill="#111" stroke="#111" stroke-width="0.12"><tspan font-style="italic">P</tspan>-non-linear = 0.001</text>
<path d="M216.00,247.08 L217.00,247.78 L218.00,248.46 L219.00,249.13 L220.00,249.79 L221.00,250.43 L222.00,251.06 L223.00,251.68 L224.00,252.29 L225.00,252.88 L226.00,253.47 L227.00,254.04 L228.00,254.60 L229.00,255.15 L230.00,255.70 L231.00,256.23 L232.00,256.75 L233.00,257.26 L234.00,257.76 L235.00,258.25 L236.00,258.73 L237.00,259.21 L238.00,259.67 L239.00,260.13 L240.00,260.58 L241.00,261.02 L242.00,261.45 L243.00,261.87 L244.00,262.29 L245.00,262.70 L246.00,263.10 L247.00,263.50 L248.00,263.89 L249.00,264.27 L250.00,264.65 L251.00,265.02 L252.00,265.38 L253.00,265.74 L254.00,266.10 L255.00,266.45 L256.00,266.79 L257.00,267.13 L258.00,267.47 L259.00,267.80 L260.00,268.13 L261.00,268.45 L262.00,268.77 L263.00,269.09 L264.00,269.40 L265.00,269.72 L266.00,270.02 L267.00,270.33 L268.00,270.63 L269.00,270.93 L270.00,271.23 L271.00,271.52 L272.00,271.81 L273.00,272.09 L274.00,272.37 L275.00,272.65 L276.00,272.92 L277.00,273.18 L278.00,273.44 L279.00,273.70 L280.00,273.94 L281.00,274.19 L282.00,274.43 L283.00,274.66 L284.00,274.88 L285.00,275.10 L286.00,275.31 L287.00,275.51 L288.00,275.71 L289.00,275.90 L290.00,276.08 L291.00,276.25 L292.00,276.42 L293.00,276.58 L294.00,276.73 L295.00,276.87 L296.00,277.00 L297.00,277.12 L298.00,277.23 L299.00,277.33 L300.00,277.43 L301.00,277.51 L302.00,277.58 L303.00,277.65 L304.00,277.70 L305.00,277.74 L306.00,277.77 L307.00,277.79 L308.00,277.80 L309.00,277.79 L310.00,277.76 L311.00,277.70 L312.00,277.60 L313.00,277.46 L314.00,277.27 L315.00,277.03 L316.00,276.72 L317.00,276.35 L318.00,275.90 L319.00,275.36 L320.00,274.74 L321.00,274.02 L322.00,273.21 L323.00,272.31 L324.00,271.32 L325.00,270.26 L326.00,269.12 L327.00,267.91 L328.00,266.63 L329.00,265.28 L330.00,263.88 L331.00,262.41 L332.00,260.90 L333.00,259.34 L334.00,257.73 L335.00,256.08 L336.00,254.38 L337.00,252.61 L338.00,250.78 L339.00,248.88 L340.00,246.89 L341.00,244.82 L342.00,242.65 L343.00,240.38 L344.00,238.00 L345.00,235.50 L346.00,232.89 L347.00,230.14 L348.00,227.25 L349.00,224.22 L350.00,221.04 L351.00,217.70 L352.00,214.19 L353.00,210.51 L354.00,206.66 L354.40,205.06 L354.40,289.31 L354.00,289.31 L353.00,289.37 L352.00,289.48 L351.00,289.64 L350.00,289.85 L349.00,290.12 L348.00,290.43 L347.00,290.79 L346.00,291.21 L345.00,291.67 L344.00,292.18 L343.00,292.74 L342.00,293.34 L341.00,294.00 L340.00,294.70 L339.00,295.45 L338.00,296.24 L337.00,297.08 L336.00,297.96 L335.00,298.89 L334.00,299.86 L333.00,300.88 L332.00,301.94 L331.00,303.04 L330.00,304.19 L329.00,305.38 L328.00,306.61 L327.00,307.87 L326.00,309.16 L325.00,310.47 L324.00,311.78 L323.00,313.10 L322.00,314.41 L321.00,315.70 L320.00,316.96 L319.00,318.19 L318.00,319.37 L317.00,320.52 L316.00,321.61 L315.00,322.66 L314.00,323.65 L313.00,324.59 L312.00,325.48 L311.00,326.31 L310.00,327.07 L309.00,327.78 L308.00,328.41 L307.00,328.99 L306.00,329.49 L305.00,329.92 L304.00,330.27 L303.00,330.55 L302.00,330.75 L301.00,330.87 L300.00,330.90 L299.00,330.85 L298.00,330.73 L297.00,330.54 L296.00,330.29 L295.00,330.00 L294.00,329.67 L293.00,329.31 L292.00,328.94 L291.00,328.56 L290.00,328.17 L289.00,327.77 L288.00,327.35 L287.00,326.93 L286.00,326.49 L285.00,326.04 L284.00,325.58 L283.00,325.10 L282.00,324.61 L281.00,324.11 L280.00,323.59 L279.00,323.05 L278.00,322.50 L277.00,321.93 L276.00,321.35 L275.00,320.75 L274.00,320.12 L273.00,319.49 L272.00,318.83 L271.00,318.15 L270.00,317.45 L269.00,316.73 L268.00,315.99 L267.00,315.23 L266.00,314.45 L265.00,313.64 L264.00,312.81 L263.00,311.96 L262.00,311.09 L261.00,310.19 L260.00,309.27 L259.00,308.32 L258.00,307.36 L257.00,306.37 L256.00,305.36 L255.00,304.33 L254.00,303.27 L253.00,302.19 L252.00,301.09 L251.00,299.97 L250.00,298.83 L249.00,297.66 L248.00,296.48 L247.00,295.27 L246.00,294.04 L245.00,292.79 L244.00,291.51 L243.00,290.22 L242.00,288.90 L241.00,287.57 L240.00,286.21 L239.00,284.83 L238.00,283.43 L237.00,282.01 L236.00,280.57 L235.00,279.11 L234.00,277.63 L233.00,276.13 L232.00,274.61 L231.00,273.06 L230.00,271.50 L229.00,269.92 L228.00,268.32 L227.00,266.69 L226.00,265.05 L225.00,263.39 L224.00,261.71 L223.00,260.01 L222.00,258.29 L221.00,256.55 L220.00,254.79 L219.00,253.02 L218.00,251.22 L217.00,249.40 L216.00,247.57 Z" fill="#b9ccd8"/>
<path d="M216.00,247.26 L217.00,248.47 L218.00,249.67 L219.00,250.85 L220.00,252.00 L221.00,253.14 L222.00,254.26 L223.00,255.36 L224.00,256.44 L225.00,257.50 L226.00,258.55 L227.00,259.59 L228.00,260.61 L229.00,261.61 L230.00,262.61 L231.00,263.59 L232.00,264.56 L233.00,265.52 L234.00,266.47 L235.00,267.42 L236.00,268.35 L237.00,269.28 L238.00,270.20 L239.00,271.11 L240.00,272.02 L241.00,272.92 L242.00,273.82 L243.00,274.70 L244.00,275.58 L245.00,276.46 L246.00,277.32 L247.00,278.18 L248.00,279.03 L249.00,279.87 L250.00,280.70 L251.00,281.53 L252.00,282.35 L253.00,283.15 L254.00,283.95 L255.00,284.74 L256.00,285.52 L257.00,286.29 L258.00,287.05 L259.00,287.81 L260.00,288.55 L261.00,289.28 L262.00,290.00 L263.00,290.71 L264.00,291.41 L265.00,292.09 L266.00,292.77 L267.00,293.44 L268.00,294.09 L269.00,294.73 L270.00,295.35 L271.00,295.96 L272.00,296.56 L273.00,297.14 L274.00,297.70 L275.00,298.25 L276.00,298.78 L277.00,299.29 L278.00,299.78 L279.00,300.25 L280.00,300.71 L281.00,301.14 L282.00,301.55 L283.00,301.93 L284.00,302.30 L285.00,302.64 L286.00,302.96 L287.00,303.25 L288.00,303.51 L289.00,303.75 L290.00,303.97 L291.00,304.15 L292.00,304.31 L293.00,304.44 L294.00,304.54 L295.00,304.61 L296.00,304.65 L297.00,304.66 L298.00,304.63 L299.00,304.58 L300.00,304.49 L301.00,304.37 L302.00,304.21 L303.00,304.02 L304.00,303.79 L305.00,303.53 L306.00,303.23 L307.00,302.90 L308.00,302.53 L309.00,302.13 L310.00,301.69 L311.00,301.22 L312.00,300.71 L313.00,300.16 L314.00,299.57 L315.00,298.95 L316.00,298.29 L317.00,297.60 L318.00,296.86 L319.00,296.09 L320.00,295.28 L321.00,294.43 L322.00,293.54 L323.00,292.61 L324.00,291.65 L325.00,290.64 L326.00,289.59 L327.00,288.51 L328.00,287.38 L329.00,286.22 L330.00,285.01 L331.00,283.77 L332.00,282.48 L333.00,281.17 L334.00,279.81 L335.00,278.43 L336.00,277.01 L337.00,275.56 L338.00,274.08 L339.00,272.57 L340.00,271.04 L341.00,269.48 L342.00,267.90 L343.00,266.30 L344.00,264.68 L345.00,263.03 L346.00,261.37 L347.00,259.69 L348.00,258.00 L349.00,256.29 L350.00,254.57 L351.00,252.84 L352.00,251.09 L353.00,249.34 L354.00,247.58 L354.40,246.87" fill="none" stroke="#2f6378" stroke-width="2.75" stroke-linecap="butt" stroke-linejoin="round"/>
<line x1="209.10" y1="247.00" x2="359.70" y2="247.00" stroke="#bfbfbf" stroke-width="1.45" stroke-dasharray="3.8 3.56"/>
<line x1="209.10" y1="189.50" x2="209.10" y2="339.30" stroke="#333333" stroke-width="1.1"/>
<line x1="208.60" y1="338.80" x2="361.30" y2="338.80" stroke="#333333" stroke-width="1.1"/>
<line x1="206.60" y1="195.70" x2="209.10" y2="195.70" stroke="#333333" stroke-width="0.9"/>
<text x="204.60" y="198.80" text-anchor="end" font-size="7.6" fill="#4d4d4d">1</text>
<line x1="206.60" y1="247.00" x2="209.10" y2="247.00" stroke="#333333" stroke-width="0.9"/>
<text x="204.60" y="250.10" text-anchor="end" font-size="7.6" fill="#4d4d4d">0</text>
<line x1="206.60" y1="298.50" x2="209.10" y2="298.50" stroke="#333333" stroke-width="0.9"/>
<text x="204.60" y="301.60" text-anchor="end" font-size="7.6" fill="#4d4d4d">-1</text>
<line x1="210.30" y1="338.80" x2="210.30" y2="341.30" stroke="#333333" stroke-width="0.9"/>
<text x="210.30" y="349.00" text-anchor="middle" font-size="7.6" fill="#4d4d4d">-5.0</text>
<line x1="246.70" y1="338.80" x2="246.70" y2="341.30" stroke="#333333" stroke-width="0.9"/>
<text x="246.70" y="349.00" text-anchor="middle" font-size="7.6" fill="#4d4d4d">-2.5</text>
<line x1="283.20" y1="338.80" x2="283.20" y2="341.30" stroke="#333333" stroke-width="0.9"/>
<text x="283.20" y="349.00" text-anchor="middle" font-size="7.6" fill="#4d4d4d">0.0</text>
<line x1="319.80" y1="338.80" x2="319.80" y2="341.30" stroke="#333333" stroke-width="0.9"/>
<text x="319.80" y="349.00" text-anchor="middle" font-size="7.6" fill="#4d4d4d">2.5</text>
<line x1="356.40" y1="338.80" x2="356.40" y2="341.30" stroke="#333333" stroke-width="0.9"/>
<text x="356.40" y="349.00" text-anchor="middle" font-size="7.6" fill="#4d4d4d">5.0</text>
<text x="283.00" y="359.00" text-anchor="middle" font-size="9.5" font-weight="normal" fill="#111" stroke="#111" stroke-width="0.12">Alcohol</text>
<text transform="translate(194.10,263.20) rotate(-90)" text-anchor="middle" font-size="9.5" font-weight="normal" fill="#111" stroke="#111" stroke-width="0.12">β (95% CI)</text>
<text x="200.80" y="187.20" font-size="9.6" font-weight="normal" fill="#111" stroke="#111" stroke-width="0.12">E</text>
<text x="349.30" y="202.60" text-anchor="end" font-size="9.4" fill="#111" stroke="#111" stroke-width="0.12"><tspan font-style="italic">P</tspan>-overall &lt; 0.001</text>
<text x="348.80" y="215.70" text-anchor="end" font-size="9.4" fill="#111" stroke="#111" stroke-width="0.12"><tspan font-style="italic">P</tspan>-non-linear = 0.011</text>
</svg>
</body></html>
